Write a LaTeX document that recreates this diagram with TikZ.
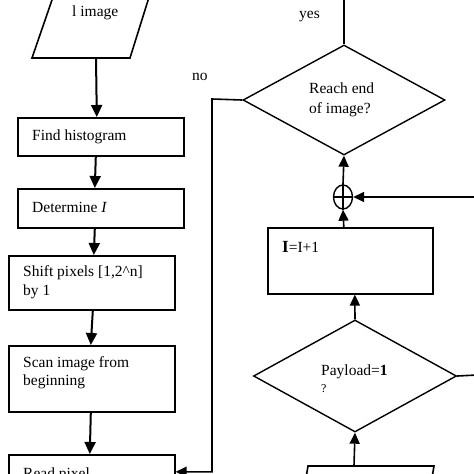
\documentclass[tikz,border=0pt]{standalone}
\usepackage{fontspec}
\setmainfont{Liberation Serif}
\usetikzlibrary{shapes.geometric,arrows.meta,calc}
\begin{document}
\begin{tikzpicture}[x=1pt,y=-1pt,
  font=\fontsize{15.5}{18.5}\selectfont,
  box/.style={draw,line width=1.6pt,inner sep=0pt,anchor=north west},
  dia/.style={draw,diamond,line width=1.4pt,inner sep=0pt},
  txt/.style={anchor=base west,inner sep=0pt},
  arr/.style={-{Triangle[width=11pt,length=12pt]},line width=2pt},
  arrs/.style={-{Triangle[width=10pt,length=11pt]},line width=1.6pt},
  ln/.style={line width=1.6pt}]
\useasboundingbox (0,0) rectangle (474,474);
\clip (0,0) rectangle (474,474);
% input parallelogram (top)
\draw[ln] (32,58) -- (130,58) -- (149.7,-5) -- (53.7,-5) -- cycle;
\coordinate (pbot) at (96,58);
\node[txt] (tin) at (72,16) {l image};
% left column boxes
\node[box,minimum width=166pt,minimum height=38pt] (find) at (17,117) {};
\node[box,minimum width=166pt,minimum height=39pt] (det) at (17,188) {};
\node[box,minimum width=166pt,minimum height=54pt] (shift) at (8,255) {};
\node[box,minimum width=166pt,minimum height=66pt] (scan) at (8,345) {};
\node[box,minimum width=166pt,minimum height=34pt] (read) at (8,454) {};
\node[txt] (tfind) at (32,140) {Find histogram};
\node[txt] (tdet) at (32,212) {Determine \textit{I}};
\node[txt] (tsh1) at (23,276) {Shift pixels [1,2\textasciicircum n]};
\node[txt] (tsh2) at (23,295) {by 1};
\node[txt] (tsc1) at (23,367) {Scan image from};
\node[txt] (tsc2) at (23,385) {beginning};
\node[txt] (trd) at (23,478) {Read pixel};
% left arrows
\draw[arr] (pbot) -- ([xshift=-4pt]find.north);
\draw[arr] ([xshift=-5pt]find.south) -- ([xshift=-6pt]det.north);
\draw[arr] ([xshift=-6pt]det.south) -- ([xshift=2pt]shift.north);
\draw[arr] ([xshift=1pt]shift.south) -- ([xshift=-1pt]scan.north);
\draw[arr] ([xshift=-1pt]scan.south) -- ([xshift=-2pt]read.north);
% right column
\node[dia,minimum width=202pt,minimum height=110pt] (reach) at (344,100) {};
\node[txt] (tre1) at (309,93) {Reach end};
\node[txt] (tre2) at (309,113) {of image?};
\node[draw,ellipse,line width=1.4pt,minimum width=19pt,minimum height=24pt,inner sep=0pt] (sum) at (343,197) {};
\draw[line width=1.2pt] (sum.north) -- (sum.south) (sum.west) -- (sum.east);
\node[box,minimum width=165pt,minimum height=66pt] (inc) at (267,227) {};
\node[txt] (tinc) at (282,252) {\textbf{\fontsize{17}{20}\selectfont I}=I+1};
\node[dia,minimum width=203pt,minimum height=112pt] (pay) at (355,376) {};
\node[txt] (tpay) at (321,375) {Payload=\textbf{1}};
\node[txt,font=\fontsize{12}{14}\selectfont] (tq) at (321,392) {?};
% bottom input shape
\draw[ln] (306,478) -- (308,466) -- (434,466) -- (432,478);
\coordinate (inb) at (354,466);
% text labels
\node[txt] (tyes) at (299,18) {yes};
\node[txt] (tno) at (192,80) {no};
% right connectors
\coordinate (topend) at (344,-3);
\coordinate (rend) at (477,197);
\coordinate (pend) at (477,375);
\coordinate (loopc) at (212,99);
\draw[ln] (topend) -- (reach.north);
\draw[arrs] (sum.north) -- (reach.south);
\draw[arrs] ([xshift=-6.5pt]inc.north) -- (sum.south);
\draw[arrs] (rend) -- (sum.east);
\draw[arrs] (pay.north) -- ([xshift=4.5pt]inc.south);
\draw[arrs] (inb) -- (pay.south);
\draw[ln] (pay.east) -- (pend);
\draw[arrs] (reach.west) -- (loopc) |- (read.east);
\end{tikzpicture}
\end{document}
